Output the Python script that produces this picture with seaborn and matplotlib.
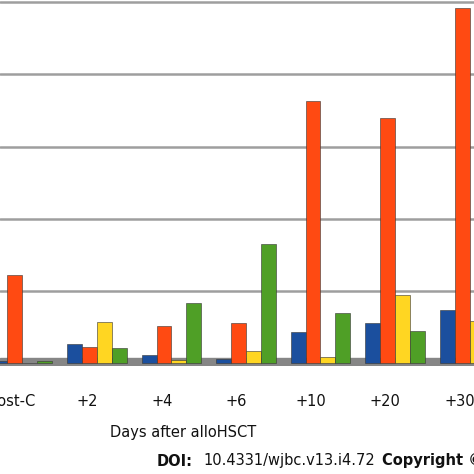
import numpy as np
import pandas as pd
import matplotlib
matplotlib.use("Agg")
import matplotlib.pyplot as plt
import seaborn as sns

# ---- values (in gridline units) ----
days = ["Post-C", "+2", "+4", "+6", "+10", "+20", "+30"]
blue_vals = [0.03, 0.26, 0.11, 0.06, 0.43, 0.56, 0.74]
orange_vals = [1.22, 0.22, 0.51, 0.56, 3.63, 3.40, 4.92]
yellow_vals = [0.0, 0.57, 0.05, 0.17, 0.08, 0.94, 0.58]
green_vals = [0.03, 0.21, 0.83, 1.65, 0.69, 0.44, 0.50]
series_names = ["S1", "S2", "S3", "S4"]
colours = ["#1b4f9e", "#ff4a12", "#ffd622", "#4f9f26"]

# ---- long table for seaborn ----
rows = []
for name, vals in zip(series_names, [blue_vals, orange_vals, yellow_vals, green_vals]):
    for d, v in zip(days, vals):
        rows.append({"day": d, "value": v, "series": name})
df = pd.DataFrame(rows)

sns.set_style("white")
plt.rcParams["font.family"] = ["DejaVu Sans"]

fig = plt.figure(figsize=(4.74, 4.74), dpi=100)
ax = fig.add_axes([0, 1 - 366 / 474, 1, 366 / 474])

# grey floor under the bars
ax.axhspan(-0.04, 0.07, color="#868686", zorder=0.5)

sns.barplot(data=df, x="day", y="value", hue="series", palette=colours,
            saturation=1, width=0.8, legend=False, ax=ax, zorder=2,
            edgecolor="#333333", linewidth=0.4)

ax.set_xlim(-0.30, 6.06)
ax.set_ylim(-0.04, 5.03)
ax.set_yticks([1, 2, 3, 4, 5])
ax.set_yticklabels([])
ax.yaxis.grid(True, color="#9e9e9e", linewidth=1.8)
ax.set_axisbelow(True)
ax.set_xticks(np.arange(len(days)) - 0.13, days)
ax.tick_params(axis="x", length=0, pad=20, labelsize=10.5, labelcolor="#111111")
ax.tick_params(axis="y", length=0)
ax.set_xlabel("")
ax.set_ylabel("")
for s in ax.spines.values():
    s.set_visible(False)

fig.text(110 / 474, 1 - 433 / 474, "Days after alloHSCT", ha="left", va="center",
         fontsize=10.5, color="#111111")
fig.text(157 / 474, 1 - 461 / 474, "DOI:", ha="left", va="center",
         fontsize=10.5, fontweight="bold", color="#111111")
fig.text(203 / 474, 1 - 461 / 474, "10.4331/wjbc.v13.i4.72", ha="left", va="center",
         fontsize=10.5, color="#111111")
fig.text(382 / 474, 1 - 461 / 474, "Copyright ©The Author(s) 2022.", ha="left",
         va="center", fontsize=10.5, fontweight="bold", color="#111111")

fig.savefig("out.png", dpi=100, facecolor="white")
